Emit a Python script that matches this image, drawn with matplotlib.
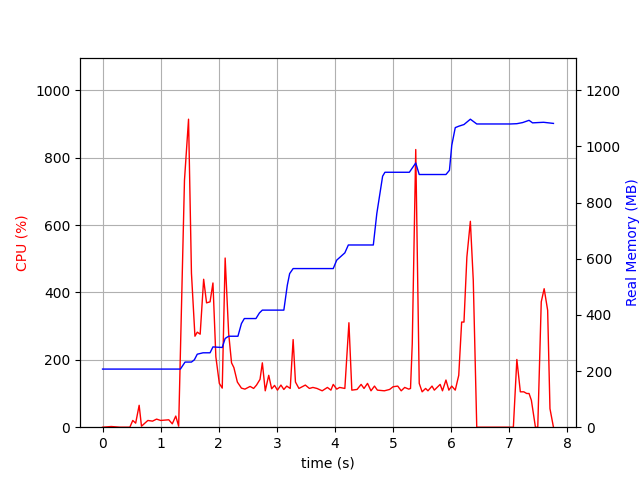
import matplotlib
matplotlib.use("Agg")
import matplotlib.pyplot as plt

# ---------- Data ----------
cpu_t = [0.00, 0.15, 0.30, 0.47, 0.52, 0.57, 0.63, 0.67, 0.78, 0.86, 0.93, 1.00,
         1.14, 1.20, 1.26, 1.31, 1.41, 1.48, 1.53, 1.59, 1.63, 1.68, 1.74, 1.79,
         1.85, 1.90, 1.95, 2.01, 2.06, 2.11, 2.17, 2.22, 2.26, 2.32, 2.39, 2.45,
         2.54, 2.60, 2.65, 2.71, 2.75, 2.80, 2.86, 2.91, 2.96, 3.01, 3.07, 3.12,
         3.17, 3.23, 3.28, 3.32, 3.38, 3.49, 3.56, 3.62, 3.69, 3.78, 3.87, 3.93,
         3.97, 4.03, 4.08, 4.17, 4.24, 4.29, 4.38, 4.45, 4.50, 4.56, 4.62, 4.68,
         4.73, 4.85, 4.94, 5.00, 5.08, 5.14, 5.20, 5.27, 5.30, 5.33, 5.39, 5.45,
         5.50, 5.56, 5.60, 5.67, 5.71, 5.81, 5.85, 5.91, 5.96, 6.01, 6.07, 6.13,
         6.18, 6.22, 6.27, 6.33, 6.38, 6.44, 6.70, 7.07, 7.13, 7.19, 7.25, 7.30,
         7.34, 7.38, 7.45, 7.49, 7.55, 7.60, 7.66, 7.70, 7.76]
cpu = [0, 2, 0, 0, 20, 12, 65, 3, 20, 18, 24, 20,
       22, 10, 33, 3, 733, 914, 457, 270, 282, 276, 439, 369,
       372, 428, 209, 130, 116, 502, 279, 191, 177, 134, 116, 113,
       121, 115, 125, 142, 191, 108, 154, 114, 124, 110, 125, 112,
       122, 115, 260, 134, 115, 125, 115, 118, 115, 108, 118, 110,
       127, 113, 118, 115, 310, 110, 112, 127, 115, 130, 108, 122,
       110, 108, 112, 120, 122, 108, 118, 113, 115, 248, 824, 130,
       105, 115, 108, 122, 110, 127, 108, 140, 110, 122, 110, 154,
       312, 312, 505, 611, 436, 0, 0, 0, 201, 105, 105, 100,
       100, 80, 0, 0, 372, 411, 347, 55, 0]

mem_t = [0.00, 1.34, 1.42, 1.53, 1.58, 1.63, 1.73, 1.85, 1.90, 1.97, 2.06, 2.11,
         2.17, 2.33, 2.39, 2.44, 2.64, 2.70, 2.75, 3.12, 3.18, 3.22, 3.28, 3.97,
         4.03, 4.17, 4.23, 4.66, 4.72, 4.82, 4.86, 5.28, 5.39, 5.45, 5.91, 5.97,
         6.01, 6.07, 6.13, 6.22, 6.33, 6.44, 7.02, 7.13, 7.23, 7.34, 7.40, 7.59,
         7.76]
mem = [207, 207, 232, 232, 240, 260, 265, 265, 286, 285, 284, 316,
       324, 324, 369, 387, 387, 407, 417, 417, 506, 547, 565, 565,
       595, 621, 649, 649, 761, 894, 908, 908, 941, 900, 900, 915,
       1004, 1067, 1072, 1078, 1097, 1080, 1080, 1081, 1085, 1093, 1084, 1086,
       1082]

# ---------- Plot ----------
fig, ax1 = plt.subplots(figsize=(6.4, 4.8), dpi=100)
ax1.plot(cpu_t, cpu, "-", color="red", linewidth=1)
ax1.set_xlabel("time (s)")
ax1.set_ylabel("CPU (%)", color="red")
ax1.set_ylim(0, max(cpu) * 1.2)
ax1.grid()

ax2 = ax1.twinx()
ax2.plot(mem_t, mem, "-", color="blue", linewidth=1)
ax2.set_ylabel("Real Memory (MB)", color="blue")
ax2.set_ylim(0, max(mem) * 1.2)

fig.savefig("out.png", dpi=100)
